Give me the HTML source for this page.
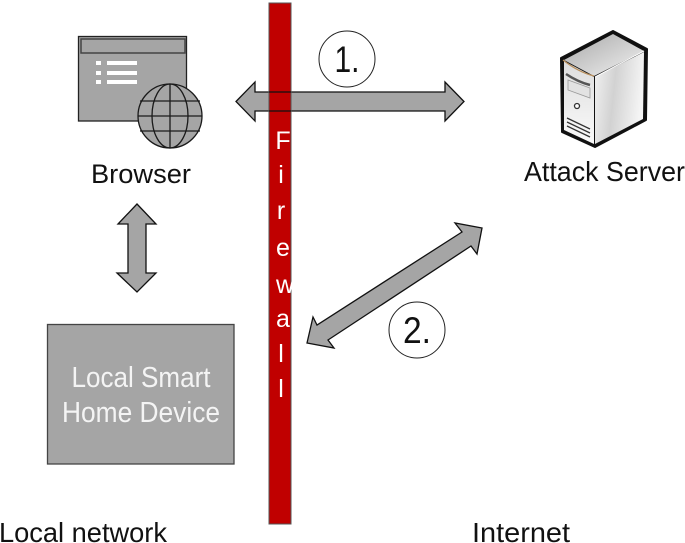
<!DOCTYPE html>
<html>
<head>
<meta charset="utf-8">
<style>
html,body{margin:0;padding:0;background:#fff;width:685px;height:543px;overflow:hidden}
svg{display:block}
text{font-family:"Liberation Sans",sans-serif}
</style>
</head>
<body>
<svg width="685" height="543" viewBox="0 0 685 543" xmlns="http://www.w3.org/2000/svg">
<defs>
<linearGradient id="sf" x1="0" y1="0" x2="1" y2="0.2"><stop offset="0" stop-color="#f2f2f2"/><stop offset="0.45" stop-color="#d2d2d2"/><stop offset="1" stop-color="#f4f4f4"/></linearGradient>
<linearGradient id="st" x1="0" y1="0" x2="1" y2="1"><stop offset="0" stop-color="#a8a8a8"/><stop offset="1" stop-color="#f2f2f2"/></linearGradient>
<linearGradient id="sl" x1="0" y1="0" x2="0" y2="1"><stop offset="0" stop-color="#ddd"/><stop offset="1" stop-color="#fafafa"/></linearGradient>
</defs>

<!-- Browser icon -->
<rect x="78.5" y="36.5" width="108" height="84.500" fill="#a5a5a5" stroke="#222" stroke-width="1.300"/>
<rect x="81" y="39" width="104" height="14" fill="#a5a5a5" stroke="#444" stroke-width="1.500"/>
<g fill="#fff">
<rect x="96" y="61" width="5" height="4"/><rect x="96" y="71" width="5" height="4"/><rect x="96" y="80" width="5" height="4"/>
<rect x="107" y="61" width="30" height="4"/><rect x="107" y="71" width="30" height="4"/><rect x="107" y="80" width="30" height="4"/>
</g>
<g fill="none" stroke="#1a1a1a" stroke-width="1.300">
<circle cx="170" cy="116" r="32" fill="#a5a5a5"/>
<ellipse cx="170" cy="116" rx="18" ry="32"/>
<line x1="170" y1="84" x2="170" y2="148"/>
<line x1="140" y1="101" x2="200" y2="101"/>
<line x1="138" y1="116" x2="202" y2="116"/>
<line x1="140" y1="131" x2="200" y2="131"/>
</g>
<text x="141" y="183" font-size="27" text-anchor="middle" textLength="100" lengthAdjust="spacingAndGlyphs" fill="#111">Browser</text>

<!-- Vertical arrow -->
<polygon points="137,204 156,224 146,224 146,273 156,273 137,292 117,273 128,273 128,224 118,224" fill="#a5a5a5" stroke="#111" stroke-width="1.300"/>

<!-- Device box -->
<rect x="47.500" y="324.500" width="186.500" height="139.500" fill="#a5a5a5" stroke="#444" stroke-width="1.300"/>
<text x="141" y="387" font-size="29" text-anchor="middle" textLength="139" lengthAdjust="spacingAndGlyphs" fill="#f4f4f4">Local Smart</text>
<text x="141" y="422" font-size="29" text-anchor="middle" textLength="158" lengthAdjust="spacingAndGlyphs" fill="#f4f4f4">Home Device</text>

<!-- Arrow 1 -->
<polygon points="236,101.500 255,82 255,92 445,92 445,82 464,101.500 445,121 445,111 255,111 255,121" fill="#a5a5a5" stroke="#111" stroke-width="1.300"/>

<!-- Firewall -->
<rect x="269" y="3" width="22" height="521" fill="#c00000" stroke="#555" stroke-width="1"/>
<line x1="269" y1="92" x2="291" y2="92" stroke="#111" stroke-width="1.300"/>
<line x1="269" y1="111" x2="291" y2="111" stroke="#111" stroke-width="1.300"/>
<g font-size="25" fill="#fff" text-anchor="middle">
<text x="283" y="149">F</text>
<text x="281" y="183">i</text>
<text x="281" y="219">r</text>
<text x="283" y="256">e</text>
<text x="285" y="293">w</text>
<text x="283" y="327">a</text>
<text x="281" y="362">l</text>
<text x="281" y="397">l</text>
</g>

<!-- Circle 1 -->
<circle cx="347" cy="59" r="28" fill="#fff" stroke="#222" stroke-width="1"/>
<text x="347" y="72" font-size="37" text-anchor="middle" textLength="25" lengthAdjust="spacingAndGlyphs" fill="#111">1.</text>

<!-- Arrow 2 -->
<polygon points="307,343 313,317 317,325 462,232 455,223 482,228 477,254 471,246 328,340 334,348" fill="#a5a5a5" stroke="#111" stroke-width="1.300"/>

<!-- Circle 2 -->
<circle cx="417" cy="330" r="28" fill="#fff" stroke="#222" stroke-width="1"/>
<text x="417" y="343" font-size="37" text-anchor="middle" textLength="28" lengthAdjust="spacingAndGlyphs" fill="#111">2.</text>

<!-- Server -->
<polygon points="613,31 647,49 646,120 595,147 562,132 561,58" fill="#111" stroke="#111" stroke-width="2" stroke-linejoin="round"/>
<polygon points="613,34 644,51 594,76 564,60" fill="url(#st)"/>
<polygon points="595,77 644,52 643,119 595,144" fill="url(#sf)"/>
<polygon points="564,61 594,77 594,144 564,130" fill="url(#sl)"/>
<path d="M563,60 Q578,72 594,76" fill="none" stroke="#b98f5c" stroke-width="1.200"/>
<line x1="595" y1="77" x2="644" y2="51" stroke="#fff" stroke-width="1"/>
<path d="M566,74 Q578,82 590,85" fill="none" stroke="#555" stroke-width="2.500"/>
<polygon points="568,80 590,88 590,98 568,90" fill="#e2e2e2" stroke="#999" stroke-width="0.800"/>
<circle cx="577" cy="106" r="2.500" fill="#fff" stroke="#333" stroke-width="1.300"/>
<g fill="none" stroke="#333" stroke-width="1.300">
<path d="M567,118 L590,129"/>
<path d="M567,122 L590,133"/>
<path d="M567,126 L590,137"/>
</g>
<text x="604.500" y="181" font-size="28" text-anchor="middle" textLength="161" lengthAdjust="spacingAndGlyphs" fill="#111">Attack Server</text>

<!-- Footer labels -->
<text x="-1" y="542" font-size="28" textLength="168" lengthAdjust="spacingAndGlyphs" fill="#111">Local network</text>
<text x="472" y="542" font-size="28" textLength="98" lengthAdjust="spacingAndGlyphs" fill="#111">Internet</text>
</svg>
</body>
</html>
